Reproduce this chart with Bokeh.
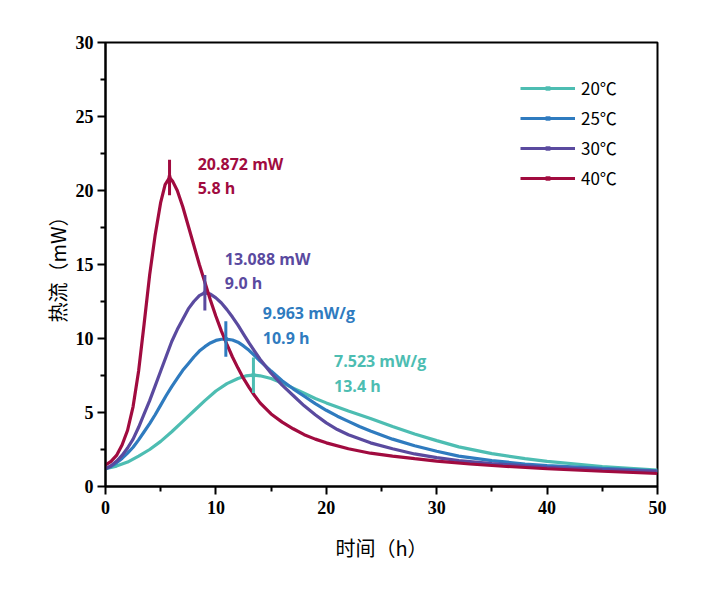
from bokeh.plotting import figure
from bokeh.models import ColumnDataSource, Legend, LegendItem, Range1d, FixedTicker
from bokeh.core.properties import value
from bokeh.embed import file_html
from bokeh.resources import INLINE

# Heat-flow curves at four temperatures
series = ["20℃", "25℃", "30℃", "40℃"]
colors = ["#4DBDB2", "#2F7BBF", "#5A4A9F", "#A10B3F"]

t_20 = [0, 1, 2, 3, 4, 5, 6, 7, 8, 9, 10, 11, 12, 12.7, 13.4, 14, 15, 16, 17, 18, 19, 20,
        22, 24, 26, 28, 30, 32, 35, 38, 40, 45, 50]
q_20 = [1.2, 1.38, 1.65, 2.05, 2.5, 3.05, 3.7, 4.4, 5.1, 5.8, 6.45, 6.95, 7.3, 7.47, 7.523,
        7.48, 7.3, 7.0, 6.65, 6.3, 5.95, 5.65, 5.1, 4.6, 4.05, 3.55, 3.1, 2.68, 2.22, 1.88,
        1.7, 1.35, 1.1]

t_25 = [0, 0.5, 1, 1.5, 2, 2.5, 3, 3.5, 4, 4.5, 5, 5.5, 6, 6.5, 7, 7.5, 8, 8.5, 9, 9.5, 10,
        10.5, 10.9, 11.5, 12, 12.5, 13, 13.5, 14, 15, 16, 17, 18, 19, 20, 21, 22, 23, 24, 26,
        28, 30, 32, 35, 38, 40, 45, 50]
q_25 = [1.2, 1.35, 1.6, 1.9, 2.25, 2.65, 3.15, 3.7, 4.25, 4.85, 5.5, 6.15, 6.75, 7.3, 7.85,
        8.3, 8.75, 9.15, 9.45, 9.7, 9.87, 9.95, 9.963, 9.9, 9.75, 9.5, 9.2, 8.85, 8.48, 7.8,
        7.15, 6.6, 6.1, 5.6, 5.15, 4.75, 4.4, 4.05, 3.75, 3.2, 2.75, 2.38, 2.05, 1.75, 1.52,
        1.42, 1.22, 1.06]

t_30 = [0, 0.5, 1, 1.5, 2, 2.5, 3, 3.5, 4, 4.5, 5, 5.5, 6, 6.5, 7, 7.5, 8, 8.5, 9, 9.5, 10,
        10.5, 11, 11.5, 12, 12.5, 13, 13.5, 14, 15, 16, 17, 18, 19, 20, 21, 22, 24, 26, 28,
        30, 32, 35, 40, 45, 50]
q_30 = [1.2, 1.4, 1.7, 2.1, 2.6, 3.2, 4.0, 4.9, 5.8, 6.8, 7.8, 8.8, 9.8, 10.6, 11.3, 12.0,
        12.5, 12.9, 13.088, 13.0, 12.75, 12.4, 11.95, 11.45, 10.9, 10.3, 9.7, 9.15, 8.6, 7.65,
        6.85, 6.15, 5.45, 4.85, 4.3, 3.85, 3.5, 2.95, 2.55, 2.2, 1.95, 1.75, 1.55, 1.3, 1.15,
        1.02]

t_40 = [0, 0.5, 1, 1.5, 2, 2.5, 3, 3.5, 4, 4.5, 5, 5.4, 5.8, 6.1, 6.5, 7, 7.5, 8, 8.5, 9,
        9.5, 10, 10.5, 11, 11.5, 12, 12.5, 13, 13.5, 14, 15, 16, 17, 18, 19, 20, 22, 24, 26,
        28, 30, 33, 36, 40, 45, 50]
q_40 = [1.45, 1.7, 2.1, 2.8, 3.8, 5.4, 7.8, 11.0, 14.3, 17.0, 19.2, 20.4, 20.872, 20.6, 20.0,
        18.9, 17.6, 16.3, 15.0, 13.8, 12.6, 11.5, 10.5, 9.6, 8.75, 8.0, 7.3, 6.7, 6.15, 5.65,
        4.9, 4.35, 3.9, 3.5, 3.2, 2.95, 2.55, 2.25, 2.05, 1.88, 1.72, 1.52, 1.37, 1.2, 1.03,
        0.88]

# Peak maxima (time, heat flow) and the unit shown in each label
peak_time = [13.4, 10.9, 9.0, 5.8]
peak_flow = [7.523, 9.963, 13.088, 20.872]
peak_unit = ["mW/g", "mW/g", "mW", "mW"]

x_ticks = [0, 10, 20, 30, 40, 50]
y_ticks = [0, 5, 10, 15, 20, 25, 30]

times = [t_20, t_25, t_30, t_40]
flows = [q_20, q_25, q_30, q_40]

p = figure(frame_width=552, frame_height=444, output_backend="svg", toolbar_location=None,
           x_range=Range1d(0, 50), y_range=Range1d(0, 30),
           min_border_left=105, min_border_right=44, min_border_top=42, min_border_bottom=107,
           background_fill_color="white", border_fill_color="white")
p.grid.visible = False
p.outline_line_color = "black"
p.outline_line_width = 2

tick_font = "Liberation Serif"
for ax in (p.xaxis[0], p.yaxis[0]):
    ax.axis_line_width = 2
    ax.major_tick_line_width = 2
    ax.minor_tick_line_width = 2
    ax.major_tick_out = 8
    ax.major_tick_in = 0
    ax.minor_tick_out = 5
    ax.minor_tick_in = 0
    ax.major_label_text_font = tick_font
    ax.major_label_text_font_style = "bold"
    ax.major_label_text_font_size = "18px"
    ax.major_label_text_color = "black"
    ax.axis_label_text_font = "Noto Sans CJK SC"
    ax.axis_label_text_font_style = "normal"
    ax.axis_label_text_font_size = "20px"
    ax.axis_label_text_color = "black"

p.xaxis[0].ticker = FixedTicker(ticks=x_ticks, minor_ticks=[v + 5 for v in x_ticks[:-1]])
p.yaxis[0].ticker = FixedTicker(ticks=y_ticks, minor_ticks=[v + 2.5 for v in y_ticks[:-1]])
p.xaxis[0].major_label_standoff = 6
p.yaxis[0].major_label_standoff = 4
p.xaxis[0].axis_label = "时间（h）"
p.yaxis[0].axis_label = "热流（mW）"
p.xaxis[0].axis_label_standoff = 16
p.yaxis[0].axis_label_standoff = 1

legend_items = []
for i, (name, col, tt, qq) in enumerate(zip(series, colors, times, flows)):
    src = ColumnDataSource(dict(t=tt, q=qq))
    ln = p.line("t", "q", source=src, line_color=col, line_width=3.2)
    # small square symbol at the peak point (also shown in the legend key)
    mk = p.scatter(x=[peak_time[i]], y=[peak_flow[i]], marker="square", size=4,
                   fill_color=col, fill_alpha=0.8, line_color=None)
    legend_items.append(LegendItem(label=name, renderers=[ln, mk]))

# Peak markers and labels
bar_half = 1.2
label_x = [20.7, 14.25, 10.8, 8.35]
label_y = [8.45, 11.7, 15.4, 21.8]
line_gap = 1.65
for i, col in enumerate(colors):
    p.segment(x0=[peak_time[i]], y0=[peak_flow[i] - bar_half],
              x1=[peak_time[i]], y1=[peak_flow[i] + bar_half],
              line_color=col, line_width=3)
    p.text(x=[label_x[i], label_x[i]], y=[label_y[i], label_y[i] - line_gap],
           text=[f"{peak_flow[i]:.3f} {peak_unit[i]}", f"{peak_time[i]:.1f} h"],
           text_color=col, text_font=value("Open Sans"), text_font_style="bold",
           text_font_size="16px", text_baseline="middle", text_align="left")

legend = Legend(items=legend_items, location=(415, 296), orientation="vertical",
                glyph_width=55, glyph_height=12, label_height=20, spacing=5,
                padding=0, margin=0, label_standoff=6,
                label_text_font="Noto Sans CJK SC", label_text_font_size="17px",
                label_text_color="black", border_line_color=None,
                background_fill_alpha=0)
p.add_layout(legend)

open("out.html", "w").write(file_html(p, INLINE))
